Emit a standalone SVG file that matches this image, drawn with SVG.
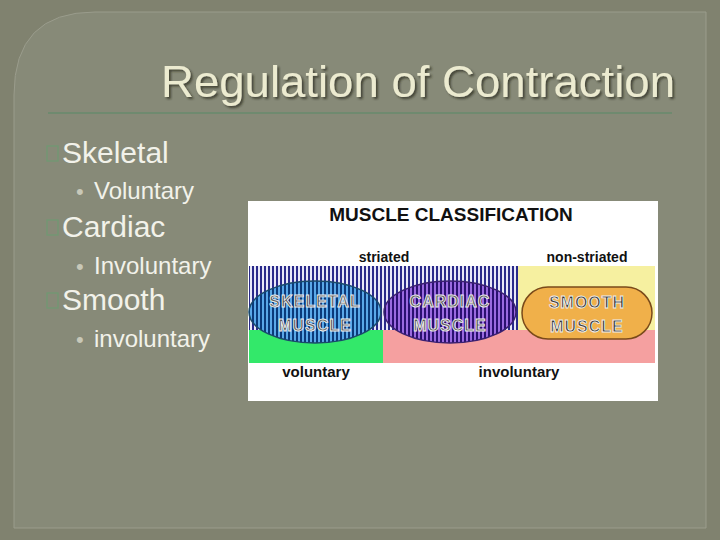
<svg xmlns="http://www.w3.org/2000/svg" width="720" height="540" viewBox="0 0 720 540">
<defs>
<pattern id="stripes" width="4" height="10" patternUnits="userSpaceOnUse"><rect width="4" height="10" fill="#e8e8f8"/><rect width="2" height="10" fill="#2a2a8a"/></pattern>
<pattern id="stripesB" width="4" height="10" patternUnits="userSpaceOnUse"><rect width="4" height="10" fill="#5aa8e8"/><rect width="2" height="10" fill="#0a3a7a"/></pattern>
<pattern id="stripesP" width="4" height="10" patternUnits="userSpaceOnUse"><rect width="4" height="10" fill="#9a6ae0"/><rect width="2" height="10" fill="#2a1070"/></pattern>
<filter id="sh" x="-5%" y="-20%" width="110%" height="140%"><feDropShadow dx="2" dy="2" stdDeviation="0.8" flood-color="#2a2a1a" flood-opacity="0.7"/></filter>
</defs>
<style>
.t{font-family:"Liberation Sans",Arial,sans-serif}
.lbl{font-family:"Liberation Sans",Arial,sans-serif;font-weight:bold;fill:#111}
.mus{font-family:"Liberation Sans",Arial,sans-serif;font-weight:bold;font-size:16px;fill:#555;stroke:#eee;stroke-width:0.9;text-anchor:middle;letter-spacing:1px}
.bx{fill:none;stroke:#6f9a72;stroke-width:1.2}
</style>
<rect width="720" height="540" fill="#80826f"/>
<path d="M95,12 H706 V528 H14 V95 Q14,12 95,12 Z" fill="#878a78" stroke="#9a9c8c" stroke-width="1"/>
<g id="title">
<text class="t" x="675" y="97" font-size="45" text-anchor="end" fill="#ecebd0" filter="url(#sh)" textLength="514" lengthAdjust="spacingAndGlyphs">Regulation of Contraction</text>
<line x1="48" y1="113" x2="672" y2="113" stroke="#6f8a6f" stroke-width="2"/>
</g>
<g id="bullets" class="t" fill="#f2f2ea">
<rect class="bx" x="47" y="146" width="11" height="15"/>
<text x="62" y="163" font-size="30">Skeletal</text>
<text x="76" y="199" font-size="22" fill="#c8c8b8">•</text><text x="94" y="199" font-size="24">Voluntary</text>
<rect class="bx" x="47" y="220" width="11" height="15"/>
<text x="62" y="237" font-size="30">Cardiac</text>
<text x="76" y="274" font-size="22" fill="#c8c8b8">•</text><text x="94" y="274" font-size="24">Involuntary</text>
<rect class="bx" x="47" y="293" width="11" height="15"/>
<text x="62" y="310" font-size="30">Smooth</text>
<text x="76" y="347" font-size="22" fill="#c8c8b8">•</text><text x="94" y="347" font-size="24">involuntary</text>
</g>
<g id="figure">
<rect x="248" y="201" width="410" height="200" fill="#fff"/>
<text class="lbl" x="451" y="221" font-size="19" text-anchor="middle">MUSCLE CLASSIFICATION</text>
<text class="lbl" x="384" y="262" font-size="14" text-anchor="middle">striated</text>
<text class="lbl" x="587" y="262" font-size="14" text-anchor="middle">non-striated</text>
<rect x="249" y="330" width="134" height="33" fill="#33e86a"/>
<rect x="383" y="330" width="272" height="33" fill="#f5a0a0"/>
<rect x="518" y="266" width="137" height="64" fill="#f6f0a0"/>
<rect x="249" y="266" width="269" height="64" fill="url(#stripes)"/>
<g id="skeletal"><ellipse cx="315" cy="312" rx="66" ry="31" fill="url(#stripesB)" stroke="#1a4a6a" stroke-width="1.5"/>
<text class="mus" x="315" y="307">SKELETAL</text><text class="mus" x="315" y="331">MUSCLE</text></g>
<g id="cardiac"><ellipse cx="450" cy="312" rx="66" ry="31" fill="url(#stripesP)" stroke="#3a2070" stroke-width="1.5"/>
<text class="mus" x="450" y="307">CARDIAC</text><text class="mus" x="450" y="331">MUSCLE</text></g>
<g id="smooth"><rect x="522" y="287" width="130" height="52" rx="26" fill="#f0b04a" stroke="#7a4a1a" stroke-width="1.5"/>
<text class="mus" x="587" y="308" style="fill:#333">SMOOTH</text><text class="mus" x="587" y="332" style="fill:#333">MUSCLE</text></g>
<text class="lbl" x="316" y="377" font-size="15" text-anchor="middle">voluntary</text>
<text class="lbl" x="519" y="377" font-size="15" text-anchor="middle">involuntary</text>
</g>
</svg>
